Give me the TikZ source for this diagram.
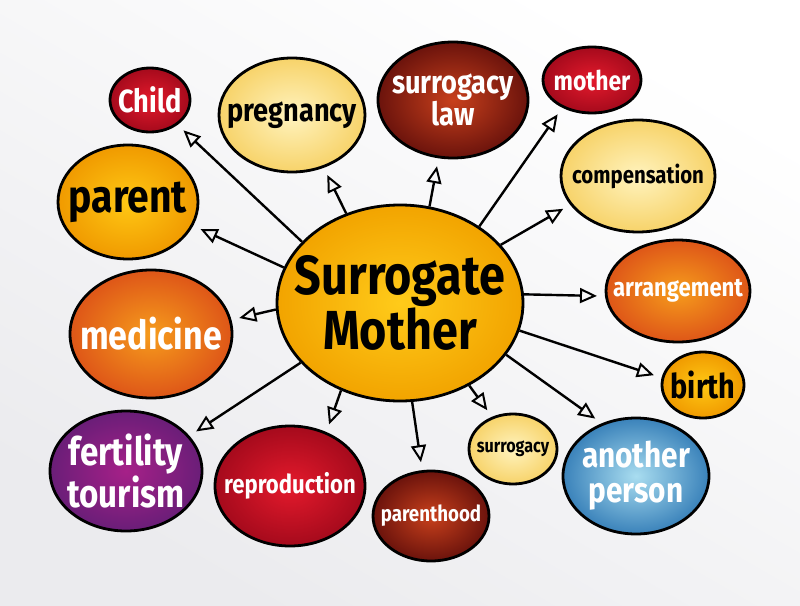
\documentclass[tikz,border=0pt]{standalone}
\usepackage{fontspec}
\usetikzlibrary{shapes.geometric,arrows.meta}
\newfontfamily\hand{Fira Sans}[FakeStretch=0.85]
\newcommand\hsz[1]{\fontsize{#1}{#1}\selectfont}
\definecolor{BgEnd}{HTML}{EBEBEE}
\definecolor{CenIn}{HTML}{FFCB1A}
\definecolor{CenOut}{HTML}{F2A400}
\definecolor{RedIn}{HTML}{E41A2C}
\definecolor{RedOut}{HTML}{A50A1C}
\definecolor{YelIn}{HTML}{FFF3BE}
\definecolor{YelOut}{HTML}{F7D36A}
\definecolor{BrnIn}{HTML}{C8401C}
\definecolor{BrnOut}{HTML}{6B130C}
\definecolor{GldIn}{HTML}{FFC814}
\definecolor{GldOut}{HTML}{F09A00}
\definecolor{OrnIn}{HTML}{F69C1C}
\definecolor{OrnOut}{HTML}{DE5618}
\definecolor{PurIn}{HTML}{A62088}
\definecolor{PurOut}{HTML}{6A1E78}
\definecolor{BluIn}{HTML}{A9DDF0}
\definecolor{BluOut}{HTML}{3A82BA}
\tikzset{
  bub/.style={ellipse, draw=black, line width=2.8pt, inner sep=0pt, shading=radial},
  cen/.style={inner color=CenIn, outer color=CenOut},
  red/.style={inner color=RedIn, outer color=RedOut},
  yel/.style={inner color=YelIn, outer color=YelOut},
  brn/.style={inner color=BrnIn, outer color=BrnOut},
  gld/.style={inner color=GldIn, outer color=GldOut},
  orn/.style={inner color=OrnIn, outer color=OrnOut},
  pur/.style={inner color=PurIn, outer color=PurOut},
  blu/.style={inner color=BluIn, outer color=BluOut},
  wt/.style={align=center, text=white, inner sep=0pt, font={\hand\bfseries\hsz{#1}}},
  bt/.style={align=center, text=black, inner sep=0pt, font={\hand\bfseries\hsz{#1}}},
  arr/.style={line width=2.4pt, shorten >=8pt,
    -{Triangle[open, length=17pt, width=15pt, line width=2pt]}}
}
\begin{document}
\begin{tikzpicture}[x=1pt,y=-1pt]
\shade[top color=white, bottom color=BgEnd, shading angle=-30] (0,0) rectangle (800,605);
\useasboundingbox (0,0) rectangle (800,605);

\node[bub, cen, minimum width=246pt, minimum height=196pt,
  label={[bt=55]center:{Surrogate\\[0pt]Mother}}] (c) at (400,303) {};

\node[bub, red, minimum width=80pt, minimum height=64pt,
  label={[wt=32]center:Child}] (child) at (150,100) {};
\node[bub, yel, minimum width=146pt, minimum height=114pt,
  label={[bt=32]center:pregnancy}] (preg) at (292,115) {};
\node[bub, brn, minimum width=150pt, minimum height=116pt,
  label={[wt=32]center:{surrogacy\\law}}] (law) at (453,100) {};
\node[bub, red, minimum width=98pt, minimum height=66pt,
  label={[wt=27]center:mother}] (mom) at (592,80) {};
\node[bub, yel, minimum width=154pt, minimum height=112pt,
  label={[bt=24]center:compensation}] (comp) at (638,176) {};
\node[bub, gld, minimum width=140pt, minimum height=114pt,
  label={[bt=46]center:parent}] (par) at (128,202) {};
\node[bub, orn, minimum width=144pt, minimum height=102pt,
  label={[wt=26]center:arrangement}] (arr) at (678,291) {};
\node[bub, orn, minimum width=162pt, minimum height=128pt,
  label={[wt=40]center:medicine}] (med) at (151,334) {};
\node[bub, gld, minimum width=82pt, minimum height=66pt,
  label={[bt=34]center:birth}] (birth) at (703,385) {};
\node[bub, pur, minimum width=152pt, minimum height=120pt,
  label={[wt=39]center:{fertility\\tourism}}] (fert) at (126,471) {};
\node[bub, red, minimum width=150pt, minimum height=120pt,
  label={[wt=26]center:reproduction}] (repr) at (290,486) {};
\node[bub, brn, minimum width=116pt, minimum height=90pt,
  label={[wt=22]center:parenthood}] (ph) at (431,516) {};
\node[bub, yel, minimum width=88pt, minimum height=70pt,
  label={[bt=19]center:surrogacy}] (sur) at (513,449) {};
\node[bub, blu, minimum width=146pt, minimum height=116pt,
  label={[wt=35]center:{another\\person}}] (ap) at (636,476) {};

\draw[arr] (c.148) -- (child.-42);
\draw[arr] (c.121) -- (preg.-59);
\draw[arr] (c.73) -- (law.-104);
\draw[arr] (c.44) -- (mom.-137);
\draw[arr] (c.30) -- (comp.-157);
\draw[arr] (c.163) -- (par.-20);
\draw[arr] (c.-177) -- (med.10);
\draw[arr] (c.4) -- (arr.-176);
\draw[arr] (c.-13) -- (birth.170);
\draw[arr] (c.-26) -- (ap.123);
\draw[arr] (c.-50) -- (sur.123);
\draw[arr] (c.-83) -- (ph.101);
\draw[arr] (c.-124) -- (repr.56);
\draw[arr] (c.-149) -- (fert.29);
\end{tikzpicture}
\end{document}
